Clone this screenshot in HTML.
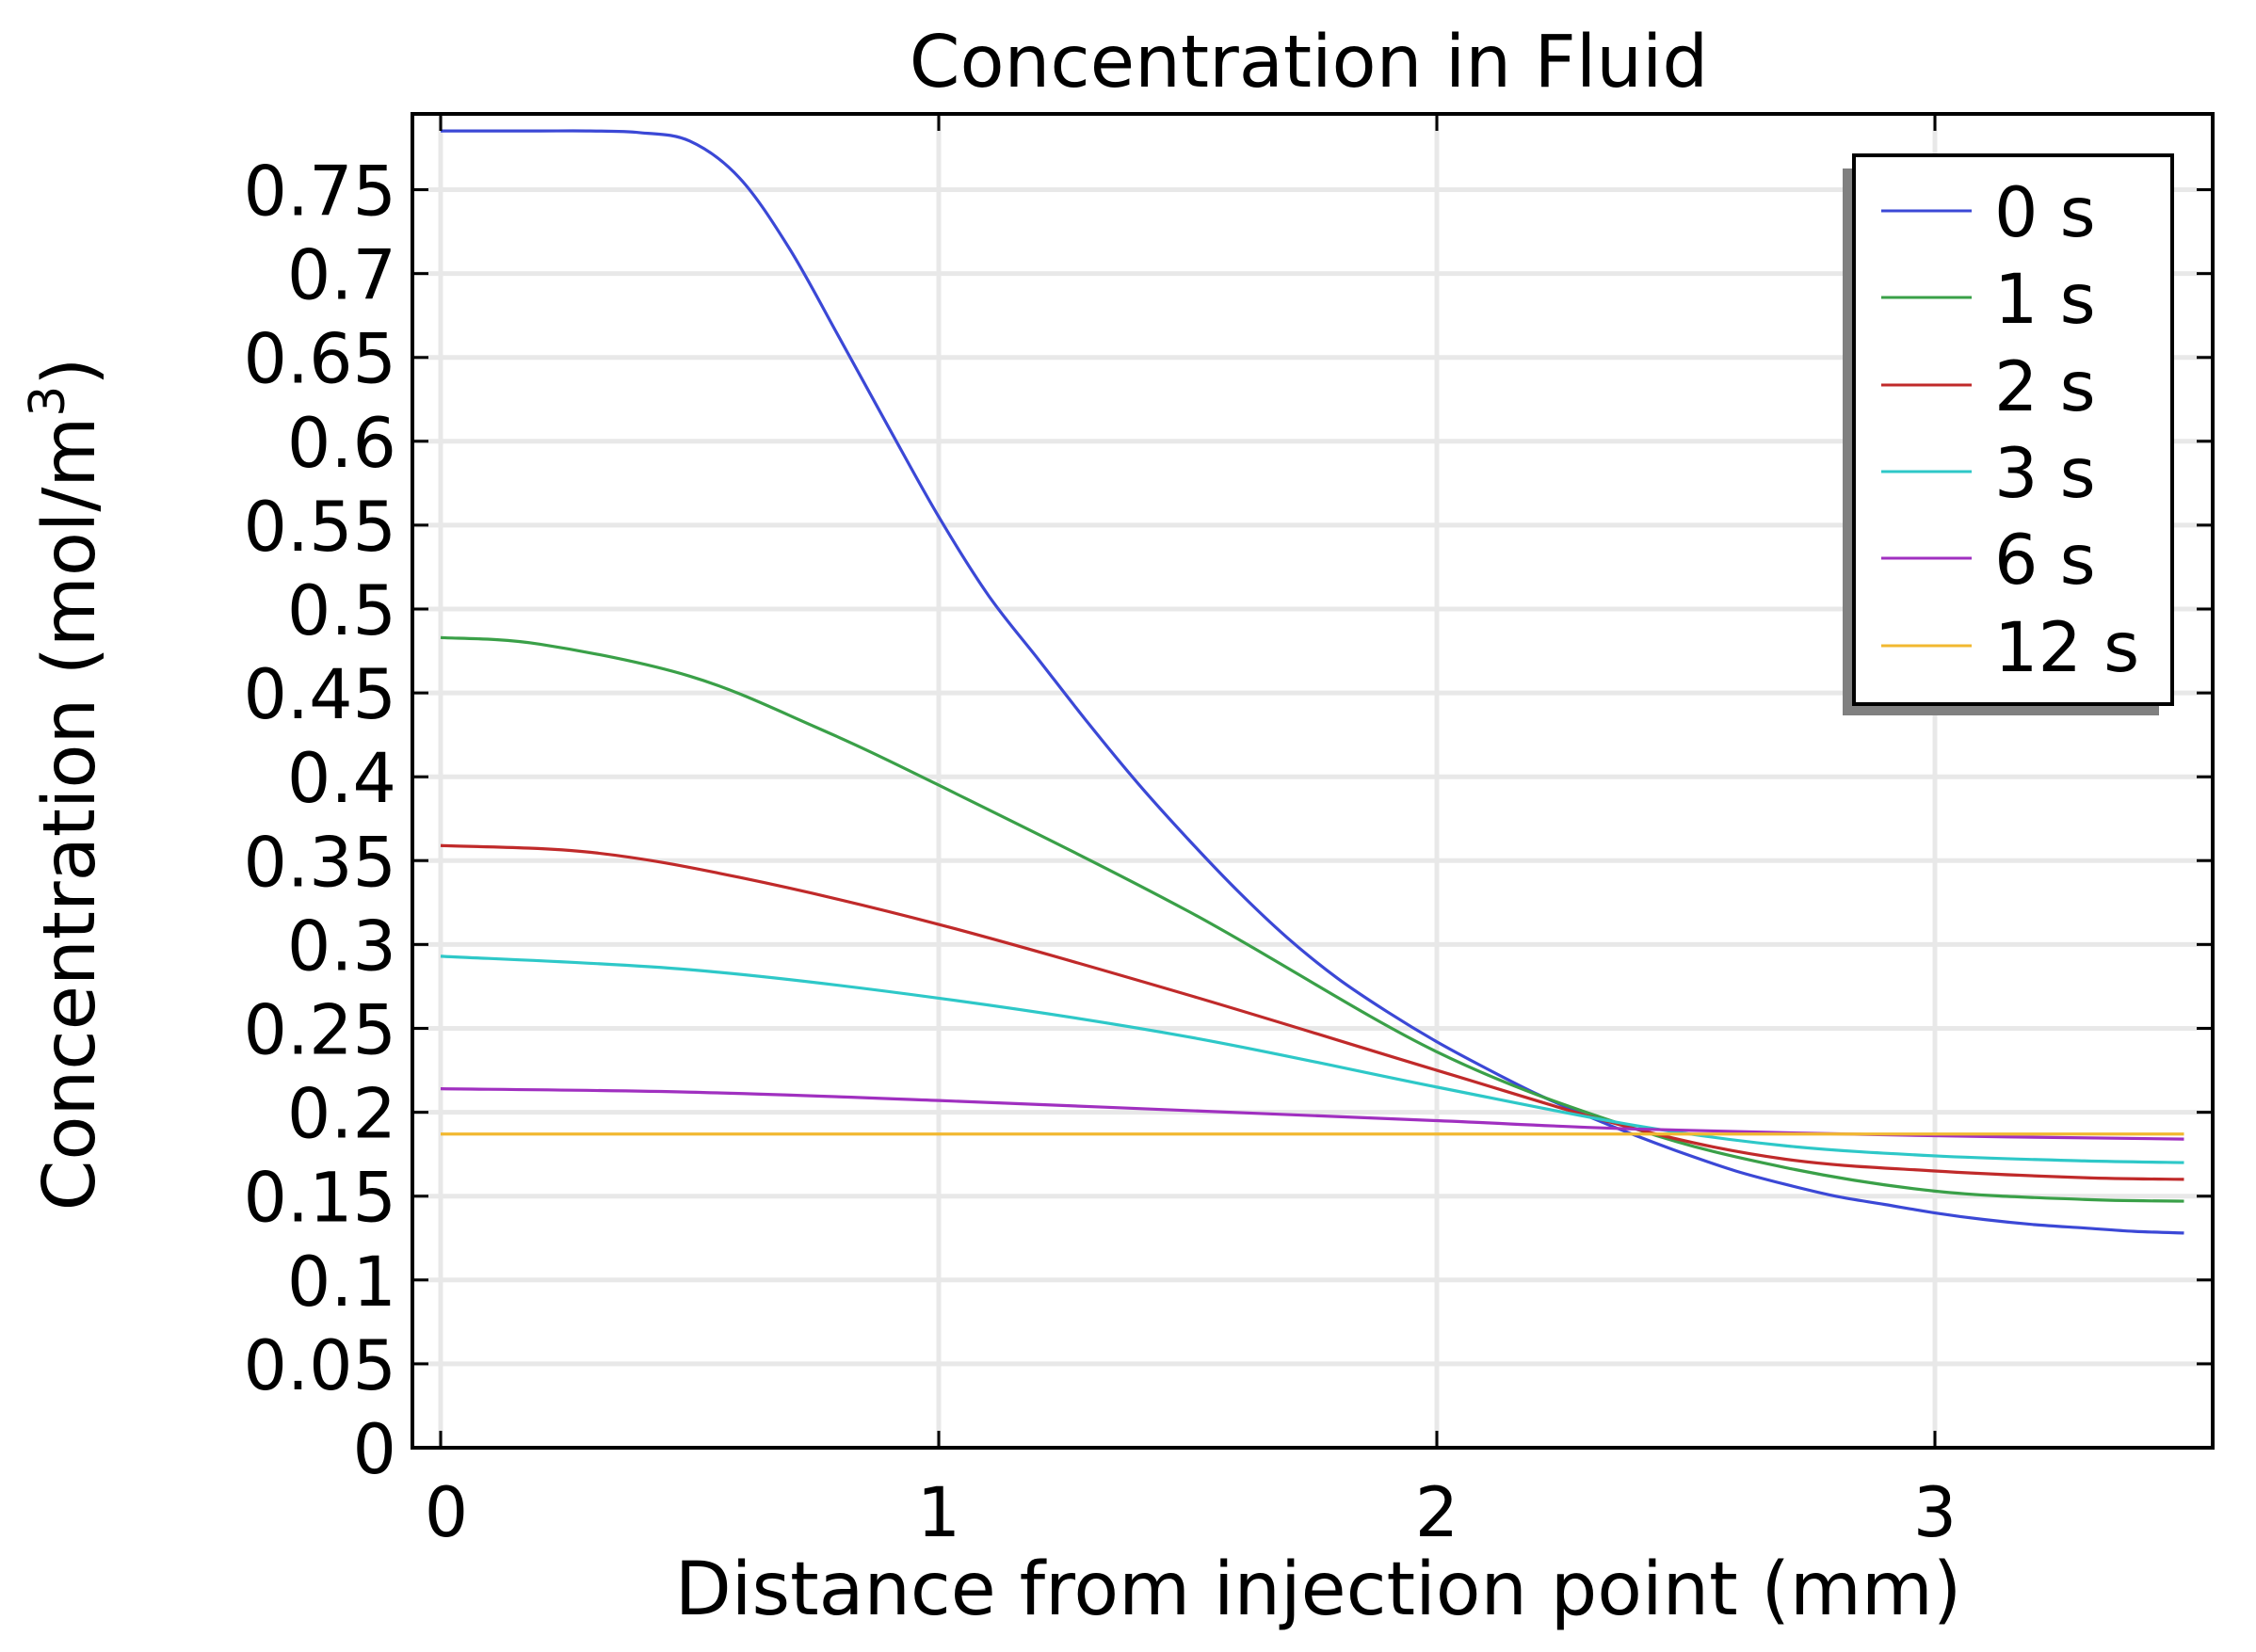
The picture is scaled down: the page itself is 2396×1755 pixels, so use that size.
<!DOCTYPE html>
<html><head><meta charset="utf-8"><style>
html,body{margin:0;padding:0;background:#fff;}
svg{display:block;}
text{font-family:"DejaVu Sans","Liberation Sans",sans-serif;fill:#000;}
</style></head><body>
<svg id="s" width="2396" height="1755" viewBox="0 0 2396 1755" xmlns="http://www.w3.org/2000/svg">
<rect width="2396" height="1755" fill="#fff"/>
<g id="grid" stroke="#e8e8e8" stroke-width="5"></g>
<g id="curves" fill="none" stroke-width="3.2"></g>
<rect x="438" y="121" width="1912" height="1417" fill="none" stroke="#000" stroke-width="4"/>
<g id="ticks" stroke="#000" stroke-width="3"></g>
<g id="ylab" font-size="73" text-anchor="end"></g>
<g id="xlab" font-size="73" text-anchor="middle"></g>
<text x="1390" y="92" font-size="77" text-anchor="middle">Concentration in Fluid</text>
<text x="1400" y="1715" font-size="78" text-anchor="middle">Distance from injection point (mm)</text>
<text transform="translate(100,833) rotate(-90)" font-size="77" text-anchor="middle">Concentration (mol/m<tspan font-size="52" dy="-32">3</tspan><tspan dy="32">)</tspan></text>
<rect x="1957" y="179" width="336" height="581" fill="#808080"/>
<rect x="1969" y="165" width="338" height="583" fill="#fff" stroke="#000" stroke-width="4"/>
<g id="leg" font-size="73"></g>
</svg>
<script>
var NS="http://www.w3.org/2000/svg";
function X(v){return 468+529*v;}
function Y(v){return 1538-1782*v;}
function el(p,t,a,txt){var e=document.createElementNS(NS,t);for(var k in a)e.setAttribute(k,a[k]);if(txt!=null)e.textContent=txt;document.getElementById(p).appendChild(e);return e;}
for(var i=1;i<=15;i++){var y=Y(i*0.05);el("grid","line",{x1:440,x2:2348,y1:y,y2:y});
 el("ticks","line",{x1:438,x2:455,y1:y,y2:y});el("ticks","line",{x1:2333,x2:2350,y1:y,y2:y});}
var yl=["0","0.05","0.1","0.15","0.2","0.25","0.3","0.35","0.4","0.45","0.5","0.55","0.6","0.65","0.7","0.75"];
for(var i=0;i<16;i++){el("ylab","text",{x:421,y:Y(i*0.05)+27},yl[i]);}
for(var i=0;i<=3;i++){var x=X(i);el("grid","line",{x1:x,x2:x,y1:123,y2:1536});
 el("ticks","line",{x1:x,x2:x,y1:1520,y2:1538});el("ticks","line",{x1:x,x2:x,y1:121,y2:139});
 el("xlab","text",{x:x+(i==0?6:0),y:1632},String(i));}
var bv=[0.785,0.785,0.785,0.785,0.784,0.779,0.757,0.715,0.662,0.608,0.555,0.508,0.47,0.432,0.396,0.363,0.332,0.304,0.28,0.26,0.242,0.226,0.211,0.198,0.186,0.175,0.165,0.157,0.15,0.145,0.14,0.136,0.133,0.131,0.129,0.128];
var blue=bv.map(function(v,i){return [i/10,v];});
var data=[
["#3b48d6",blue],
["#3aa048",[[0,0.483],[0.2,0.479],[0.5,0.46],[0.75,0.43],[1,0.395],[1.5,0.32],[2,0.236],[2.4,0.19],[2.7,0.167],[3,0.153],[3.3,0.148],[3.5,0.147]]],
["#c02a2a",[[0,0.359],[0.3,0.355],[0.6,0.34],[1,0.312],[1.5,0.27],[2,0.225],[2.4,0.19],[2.7,0.172],[3,0.165],[3.3,0.161],[3.5,0.16]]],
["#2ec8c8",[[0,0.293],[0.5,0.285],[1,0.268],[1.5,0.245],[2,0.215],[2.4,0.192],[2.7,0.18],[3,0.174],[3.3,0.171],[3.5,0.17]]],
["#a030c0",[[0,0.214],[0.5,0.212],[1,0.207],[1.5,0.201],[2,0.195],[2.4,0.19],[3,0.186],[3.5,0.184]]],
["#f2b830",[[0,0.187],[3.5,0.187]]]
];
function path(pts){var p=pts.map(function(a){return [X(a[0]),Y(a[1])];});var d="M"+p[0][0]+","+p[0][1];
 for(var i=0;i<p.length-1;i++){var p0=p[i-1]||p[i],p1=p[i],p2=p[i+1],p3=p[i+2]||p2;
  d+=" C"+(p1[0]+(p2[0]-p0[0])/6)+","+(p1[1]+(p2[1]-p0[1])/6)+" "+(p2[0]-(p3[0]-p1[0])/6)+","+(p2[1]-(p3[1]-p1[1])/6)+" "+p2[0]+","+p2[1];}
 return d;}
data.forEach(function(s){el("curves","path",{d:path(s[1]),stroke:s[0]});});
var labs=["0 s","1 s","2 s","3 s","6 s","12 s"],ly=[224,316,409,501,593,686];
for(var i=0;i<6;i++){el("leg","line",{x1:1998,x2:2094,y1:ly[i],y2:ly[i],stroke:data[i][0],"stroke-width":3});
 el("leg","text",{x:2118,y:ly[i]+27},labs[i]);}
</script>
</body></html>
